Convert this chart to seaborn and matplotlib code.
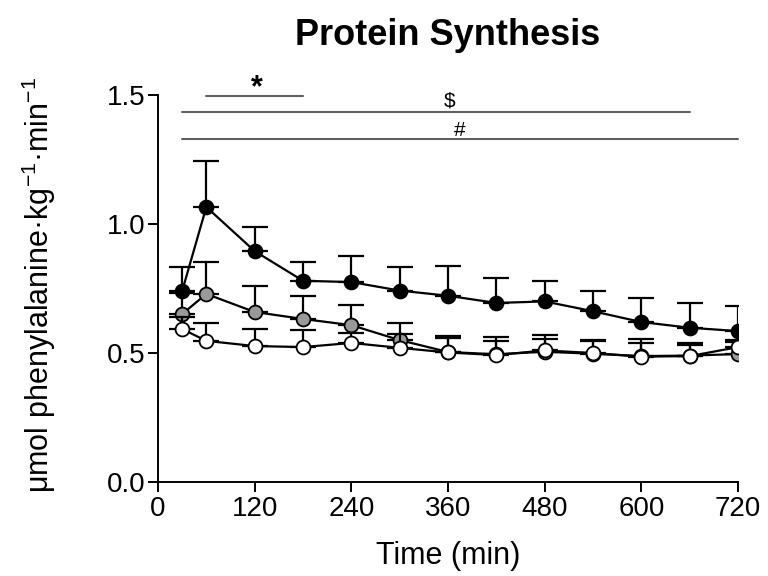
import numpy as np
import pandas as pd
import matplotlib
matplotlib.use("Agg")
import matplotlib.pyplot as plt
import seaborn as sns

# ---- data ----
time_min = [30, 60, 120, 180, 240, 300, 360, 420, 480, 540, 600, 660, 720]

black_mean = [0.740, 1.066, 0.895, 0.780, 0.775, 0.742, 0.722, 0.694, 0.700, 0.662, 0.620, 0.598, 0.585]
black_err = [0.093, 0.178, 0.095, 0.073, 0.101, 0.091, 0.116, 0.096, 0.080, 0.080, 0.092, 0.094, 0.097]

gray_mean = [0.651, 0.729, 0.659, 0.632, 0.608, 0.550, 0.504, 0.495, 0.505, 0.497, 0.488, 0.490, 0.496]
gray_err = [0.080, 0.124, 0.101, 0.088, 0.078, 0.066, 0.062, 0.067, 0.065, 0.053, 0.066, 0.048, 0.054]

white_mean = [0.593, 0.547, 0.527, 0.523, 0.539, 0.520, 0.502, 0.492, 0.510, 0.500, 0.486, 0.488, 0.523]
white_err = [0.045, 0.069, 0.066, 0.066, 0.040, 0.055, 0.056, 0.055, 0.044, 0.045, 0.052, 0.042, 0.020]

group_names = ["Group 1", "Group 2", "Group 3"]
title = "Protein Synthesis"
x_ticks = [0, 120, 240, 360, 480, 600, 720]
y_ticks = [0.0, 0.5, 1.0, 1.5]

# significance annotations: (start, end, line level, label, label x, label baseline y)
sig_bars = [
    (60, 180, 1.496, "*", 123, 1.497),
    (30, 660, 1.434, "$", 362, 1.457),
    (30, 720, 1.330, "#", 375, 1.340),
]

# ---- styling ----
sns.set_style("ticks")
plt.rcParams["font.family"] = ["Liberation Sans", "DejaVu Sans"]
plt.rcParams["text.color"] = "black"
plt.rcParams["axes.labelcolor"] = "black"
plt.rcParams["mathtext.fontset"] = "custom"
plt.rcParams["mathtext.rm"] = "Liberation Sans"
plt.rcParams["mathtext.it"] = "Liberation Sans:italic"
plt.rcParams["mathtext.bf"] = "Liberation Sans:bold"

fig = plt.figure(figsize=(7.68, 5.76), dpi=100)
ax = fig.add_axes([0.2057, 0.1632, 0.7553, 0.6718])

series = [
    (gray_mean, gray_err, "#999999", group_names[1], 2),
    (white_mean, white_err, "white", group_names[2], 3),
    (black_mean, black_err, "black", group_names[0], 4),
]

frames = []
for mean, err, col, name, z in series:
    frames.append(pd.DataFrame({"time": time_min, "value": mean, "group": name}))
df = pd.concat(frames, ignore_index=True)

for mean, err, col, name, z in series:
    sub = df[df["group"] == name]
    ax.errorbar(time_min, mean, yerr=[np.zeros(len(err)), err], fmt="none",
                ecolor="black", elinewidth=1.6, capsize=9.5, capthick=1.6, zorder=z)
    sns.lineplot(data=sub, x="time", y="value", ax=ax, color="black", linewidth=1.6,
                 marker="o", markersize=10, markerfacecolor=col, markeredgecolor="black",
                 markeredgewidth=1.3, zorder=z + 0.5, legend=False, errorbar=None)

for x0, x1, yl, lab, tx, ty in sig_bars:
    ax.plot([x0, x1], [yl, yl], color="#606060", linewidth=1.5, clip_on=False, zorder=1)
    if lab == "*":
        ax.text(tx, ty, lab, ha="center", va="baseline", fontsize=22, fontweight="bold", clip_on=False)
    else:
        ax.text(tx, ty, lab, ha="center", va="baseline", fontsize=15, clip_on=False)

ax.set_xlim(0, 720)
ax.set_ylim(0, 1.5)
ax.set_xticks(x_ticks)
ax.set_yticks(y_ticks)
ax.set_yticklabels([f"{v:.1f}" for v in y_ticks])
ax.tick_params(axis="both", labelsize=20, length=7, width=1.4, direction="out", colors="black")
ax.tick_params(axis="x", pad=3)
ax.tick_params(axis="y", pad=2)
for s in ["left", "bottom"]:
    ax.spines[s].set_linewidth(1.4)
    ax.spines[s].set_color("black")
sns.despine(ax=ax)

ax.set_xlabel("Time (min)", fontsize=22, labelpad=14)
ax.set_ylabel(r"μmol phenylalanine·kg$^{\mathregular{-1}}$·min$^{\mathregular{-1}}$", fontsize=22)
ax.yaxis.set_label_coords(-0.172, 0.51)
ax.set_title(title, fontsize=26, fontweight="bold", pad=36, color="black")

fig.savefig("out.png", dpi=100)
